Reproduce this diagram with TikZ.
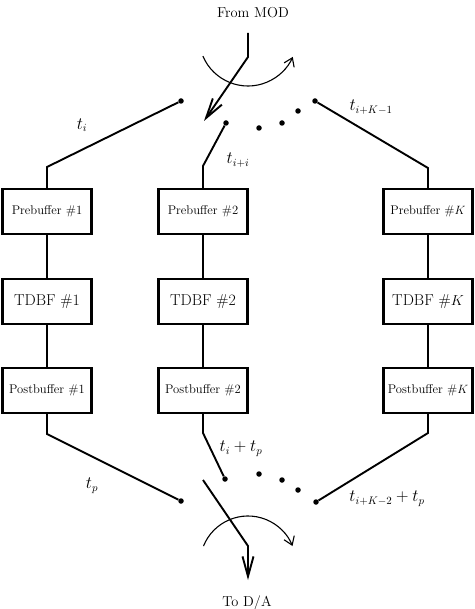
\documentclass[tikz,border=0pt]{standalone}
\usetikzlibrary{arrows.meta}

\tikzset{
    x=1pt, y=1pt,
    buf/.style={draw, rectangle, line width=2.4pt, minimum width=89, minimum height=45, inner sep=0pt, font=\fontsize{12.6}{15}\selectfont},
    filt/.style={buf, font=\fontsize{15.8}{18}\selectfont},
    wire/.style={line width=1.9pt},
    wiper/.style={wire, -{Straight Barb[length=20pt,width=11pt,line width=1.9pt]}},
    contact/.style={circle, fill, inner sep=0pt, minimum size=5.5pt},
    rot/.style={line width=1.1pt, -{Straight Barb[length=8pt,width=11pt,line width=1.1pt]}},
    lbl/.style={font=\fontsize{16}{18}\selectfont}
}

\begin{document}
\begin{tikzpicture}
    \useasboundingbox (0,0) rectangle (474,-609);

    % buffer chains
    \node[buf] (pre1) at (47,-211.5) {Prebuffer \#1};
    \node[buf] (pre2) at (203,-211.5) {Prebuffer \#2};
    \node[buf] (preK) at (428,-211.5) {Prebuffer \#$K$};
    \node[filt] (tdbf1) at (47,-301.5) {TDBF \#1};
    \node[filt] (tdbf2) at (203,-301.5) {TDBF \#2};
    \node[filt] (tdbfK) at (428,-301.5) {TDBF \#$K$};
    \node[buf] (post1) at (47,-390.5) {Postbuffer \#1};
    \node[buf] (post2) at (203,-390.5) {Postbuffer \#2};
    \node[buf] (postK) at (428,-390.5) {Postbuffer \#$K$};

    \draw[wire] (pre1) -- (tdbf1);
    \draw[wire] (tdbf1) -- (post1);
    \draw[wire] (pre2) -- (tdbf2);
    \draw[wire] (tdbf2) -- (post2);
    \draw[wire] (preK) -- (tdbfK);
    \draw[wire] (tdbfK) -- (postK);

    % input switch
    \node[contact] (in1) at (181,-101) {};
    \node[contact] (in2) at (226,-123) {};
    \node[contact] (inK) at (315,-101) {};
    \node[contact] (ind1) at (259,-128) {};
    \node[contact] (ind2) at (282,-123) {};
    \node[contact] (ind3) at (298,-111) {};
    \coordinate (j1) at (47,-167);
    \coordinate (j2) at (203,-166);
    \coordinate (jK) at (428,-168);

    \draw[wire] (pre1.north) -- (j1) -- (in1);
    \draw[wire] (pre2.north) -- (j2) -- (in2);
    \draw[wire] (preK.north) -- (jK) -- (inK);

    \node (mod) at (253,-13) {\fontsize{14.4}{17}\selectfont From MOD};
    \coordinate (wa) at (248,-33);
    \coordinate (wb) at (248,-57);
    \coordinate (wc) at (204,-121);
    \draw[wiper] (wa) -- (wb) -- (wc);
    \draw[rot] (248,-37) ++(203:49) arc[start angle=203, end angle=336, radius=49];

    % output switch
    \node[contact] (out1) at (181,-501) {};
    \node[contact] (out2) at (225,-479) {};
    \node[contact] (outK) at (316,-502) {};
    \node[contact] (outd1) at (259,-474) {};
    \node[contact] (outd2) at (282,-480) {};
    \node[contact] (outd3) at (298,-490) {};
    \coordinate (k1) at (47,-434);
    \coordinate (k2) at (203,-433);
    \coordinate (kK) at (428,-433);

    \draw[wire] (post1.south) -- (k1) -- (out1);
    \draw[wire] (post2.south) -- (k2) -- (out2);
    \draw[wire] (postK.south) -- (kK) -- (outK);

    \coordinate (va) at (203,-480);
    \coordinate (vb) at (248,-546);
    \coordinate (vc) at (248,-580);
    \draw[wiper] (va) -- (vb) -- (vc);
    \draw[rot] (248,-564) ++(158:48) arc[start angle=158, end angle=22, radius=48];
    \node (da) at (247,-603) {\fontsize{14.4}{17}\selectfont To D/A};

    % delays
    \node[lbl] (ti) at (82,-125) {$t_i$};
    \node[lbl] (tii) at (238,-160) {$t_{i+i}$};
    \node[lbl] (tiK) at (371,-107) {$t_{i+K-1}$};
    \node[lbl] (tp) at (92,-486) {$t_p$};
    \node[lbl] (titp) at (241,-449) {$t_i+t_p$};
    \node[lbl] (tiKtp) at (387,-499) {$t_{i+K-2}+t_p$};
\end{tikzpicture}
\end{document}
